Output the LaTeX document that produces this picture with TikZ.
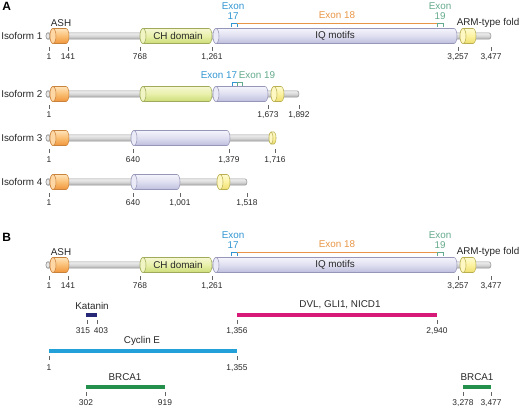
\documentclass[tikz,border=0pt]{standalone}
\usepackage{fontspec}
\setmainfont{Liberation Sans}

\definecolor{txt}{RGB}{40,40,40}
\definecolor{tickc}{RGB}{100,100,100}
\definecolor{exblue}{RGB}{50,150,210}
\definecolor{exorange}{RGB}{232,150,70}
\definecolor{exgreen}{RGB}{100,170,140}
\definecolor{katc}{RGB}{40,40,120}
\definecolor{dvlc}{RGB}{215,25,120}
\definecolor{cycc}{RGB}{35,160,215}
\definecolor{brcac}{RGB}{35,145,75}

\tikzset{every picture/.style={line width=0.4pt}}
\tikzset{
  lbl/.style={font=\fontsize{7.4}{8}\selectfont, text=txt, inner sep=0pt},
  num/.style={font=\fontsize{6.3}{7}\selectfont, text=txt, inner sep=0pt},
  tick/.style={draw=tickc, line width=0.4pt},
  exline/.style={line width=0.6pt},
  rod/.style={draw={rgb,255:red,150;green,150;blue,150}, top color={rgb,255:red,240;green,240;blue,240}, bottom color={rgb,255:red,170;green,170;blue,170}, middle color={rgb,255:red,215;green,215;blue,215}},
  rodface/.style={draw={rgb,255:red,150;green,150;blue,150}, fill={rgb,255:red,232;green,232;blue,232}},
  ash/.style={draw={rgb,255:red,200;green,130;blue,60}, top color={rgb,255:red,255;green,228;blue,185}, bottom color={rgb,255:red,240;green,150;blue,60}, middle color={rgb,255:red,250;green,190;blue,115}},
  ashface/.style={draw={rgb,255:red,200;green,130;blue,60}, fill={rgb,255:red,255;green,215;blue,165}},
  chd/.style={draw={rgb,255:red,160;green,170;blue,90}, top color={rgb,255:red,245;green,248;blue,210}, bottom color={rgb,255:red,205;green,220;blue,120}, middle color={rgb,255:red,232;green,240;blue,170}},
  chdface/.style={draw={rgb,255:red,160;green,170;blue,90}, fill={rgb,255:red,240;green,245;blue,195}},
  iqd/.style={draw={rgb,255:red,150;green,150;blue,185}, top color={rgb,255:red,245;green,245;blue,252}, bottom color={rgb,255:red,190;green,190;blue,222}, middle color={rgb,255:red,222;green,222;blue,240}},
  iqdface/.style={draw={rgb,255:red,150;green,150;blue,185}, fill={rgb,255:red,235;green,235;blue,248}},
  arm/.style={draw={rgb,255:red,185;green,175;blue,80}, top color={rgb,255:red,255;green,252;blue,210}, bottom color={rgb,255:red,238;green,222;blue,110}, middle color={rgb,255:red,252;green,242;blue,160}},
  armface/.style={draw={rgb,255:red,185;green,175;blue,80}, fill={rgb,255:red,255;green,248;blue,195}},
  bind/.style={line width=2.7pt},
}

% tube: x1, x2, y, half height, end radius, style
\newcommand{\cylbar}[6]{%
  \draw[#6] ({#1+#5},{#3-#4}) -- ({#2-#5},{#3-#4}) arc[start angle=-90,end angle=90,x radius=#5,y radius=#4] -- ({#1+#5},{#3+#4}) arc[start angle=90,end angle=270,x radius=#5,y radius=#4] -- cycle;
  \draw[#6face] ({#1+#5},#3) ellipse[x radius=#5,y radius=#4];
}

\begin{document}
\begin{tikzpicture}[x=0.75pt,y=0.75pt,yscale=-1,xscale=1]
\useasboundingbox (0,0) rectangle (520,408);

% Panel letters
\node[font=\bfseries\fontsize{9}{10}\selectfont, anchor=west, inner sep=0pt] (pA) at (2,6) {A};
\node[font=\bfseries\fontsize{9}{10}\selectfont, anchor=west, inner sep=0pt] (pB) at (2,237) {B};

%%%%%%%% Isoform 1
\node[lbl, anchor=west] (iso1) at (1,36) {Isoform 1};
\cylbar{46}{491}{36}{3.2}{2}{rod}
\cylbar{50}{69}{36}{7.5}{3}{ash}
\cylbar{140}{212}{36}{7.5}{3}{chd}
\cylbar{213}{457}{36}{7.5}{3}{iqd}
\cylbar{460}{476}{36}{7.5}{3}{arm}
\node[lbl] (ch1) at (178,36) {CH domain};
\node[lbl] (iq1) at (335,36) {IQ motifs};
\node[lbl] (ash1) at (61,23) {ASH};
\node[lbl] (arm1) at (488,23) {ARM-type fold};
% exons
\node[lbl, text=exblue] (e17a) at (233,6) {Exon};
\node[lbl, text=exblue] (e17b) at (233,16) {17};
\node[lbl, text=exorange] (e18) at (337,15) {Exon 18};
\node[lbl, text=exgreen] (e19a) at (440,6) {Exon};
\node[lbl, text=exgreen] (e19b) at (440,16) {19};
\draw[exline, exblue] (231,27) -- (231,23) -- (237,23) -- (237,27);
\draw[exline, exorange] (237,23) -- (437,23);
\draw[exline, exgreen] (437,27) -- (437,23) -- (443,23) -- (443,27);
\foreach \x/\n [count=\i] in {49/1, 68/141, 140/768, 212/{1,261}, 458/{3,257}, 491/{3,477}} {
  \draw[tick] (\x,47) -- (\x,51);
  \node[num] (a\i) at (\x,57) {\n};
}

%%%%%%%% Isoform 2
\node[lbl, anchor=west] (iso2) at (1,94) {Isoform 2};
\cylbar{46}{299}{94}{3.2}{2}{rod}
\cylbar{50}{69}{94}{7.5}{3}{ash}
\cylbar{140}{212}{94}{7.5}{3}{chd}
\cylbar{213}{268}{94}{7.5}{3}{iqd}
\cylbar{271}{284}{94}{7.5}{3}{arm}
\node[lbl, text=exblue] (e17c) at (219,75) {Exon 17};
\node[lbl, text=exgreen] (e19c) at (257,75) {Exon 19};
\draw[exline, exblue] (232,86) -- (232,82) -- (237,82) -- (237,86);
\draw[exline, exgreen] (237,86) -- (237,82) -- (242,82) -- (242,86);
\foreach \x/\n [count=\i] in {49/1, 268/{1,673}, 299/{1,892}} {
  \draw[tick] (\x,105) -- (\x,109);
  \node[num] (b\i) at (\x,115) {\n};
}

%%%%%%%% Isoform 3
\node[lbl, anchor=west] (iso3) at (1,138) {Isoform 3};
\cylbar{46}{276}{138}{3.2}{2}{rod}
\cylbar{50}{69}{138}{7.5}{3}{ash}
\cylbar{131}{230}{138}{7.5}{3}{iqd}
\cylbar{269}{276}{138}{6}{2}{arm}
\foreach \x/\n [count=\i] in {49/1, 133/640, 229/{1,379}, 275/{1,716}} {
  \draw[tick] (\x,149) -- (\x,153);
  \node[num] (c\i) at (\x,160) {\n};
}

%%%%%%%% Isoform 4
\node[lbl, anchor=west] (iso4) at (1,182) {Isoform 4};
\cylbar{46}{247}{182}{3.2}{2}{rod}
\cylbar{50}{69}{182}{7.5}{3}{ash}
\cylbar{131}{180}{182}{7.5}{3}{iqd}
\cylbar{217}{230}{182}{7.5}{3}{arm}
\foreach \x/\n [count=\i] in {49/1, 133/640, 180/{1,001}, 247/{1,518}} {
  \draw[tick] (\x,193) -- (\x,197);
  \node[num] (d\i) at (\x,203) {\n};
}

%%%%%%%% Panel B protein
\cylbar{46}{491}{265}{3.2}{2}{rod}
\cylbar{50}{69}{265}{7.5}{3}{ash}
\cylbar{140}{212}{265}{7.5}{3}{chd}
\cylbar{213}{457}{265}{7.5}{3}{iqd}
\cylbar{460}{476}{265}{7.5}{3}{arm}
\node[lbl] (ch5) at (178,265) {CH domain};
\node[lbl] (iq5) at (335,265) {IQ motifs};
\node[lbl] (ash5) at (61,252) {ASH};
\node[lbl] (arm5) at (488,252) {ARM-type fold};
\node[lbl, text=exblue] (e17d) at (233,235) {Exon};
\node[lbl, text=exblue] (e17e) at (233,245) {17};
\node[lbl, text=exorange] (e18b) at (337,244) {Exon 18};
\node[lbl, text=exgreen] (e19d) at (440,235) {Exon};
\node[lbl, text=exgreen] (e19e) at (440,245) {19};
\draw[exline, exblue] (231,256) -- (231,252) -- (237,252) -- (237,256);
\draw[exline, exorange] (237,252) -- (437,252);
\draw[exline, exgreen] (437,256) -- (437,252) -- (443,252) -- (443,256);
\foreach \x/\n [count=\i] in {49/1, 68/141, 140/768, 212/{1,261}, 458/{3,257}, 491/{3,477}} {
  \draw[tick] (\x,276) -- (\x,280);
  \node[num] (f\i) at (\x,286) {\n};
}

%%%%%%%% Binding regions
% Katanin
\node[lbl] (kat) at (92,306) {Katanin};
\coordinate (kat1) at (86,315);
\coordinate (kat2) at (97,315);
\draw[bind, katc] (kat1) -- (kat2);
\draw[tick] (87,320) -- (87,324);
\draw[tick] (97,320) -- (97,324);
\node[num] (k1) at (83,331) {315};
\node[num] (k2) at (101,331) {403};
% DVL, GLI1, NICD1
\node[lbl] (dvl) at (340,305) {DVL, GLI1, NICD1};
\coordinate (dvl1) at (237,315);
\coordinate (dvl2) at (437,315);
\draw[bind, dvlc] (dvl1) -- (dvl2);
\draw[tick] (237,320) -- (237,324);
\draw[tick] (437,320) -- (437,324);
\node[num] (v1) at (237,331) {1,356};
\node[num] (v2) at (437,331) {2,940};
% Cyclin E
\node[lbl] (cyc) at (142,341) {Cyclin E};
\coordinate (cyc1) at (49,351);
\coordinate (cyc2) at (237,351);
\draw[bind, cycc] (cyc1) -- (cyc2);
\draw[tick] (49,356) -- (49,360);
\draw[tick] (237,356) -- (237,360);
\node[num] (y1) at (49,368) {1};
\node[num] (y2) at (237,368) {1,355};
% BRCA1 (N)
\node[lbl] (brca) at (125,377) {BRCA1};
\coordinate (brca1) at (86,387);
\coordinate (brca2) at (165,387);
\draw[bind, brcac] (brca1) -- (brca2);
\draw[tick] (86,392) -- (86,396);
\draw[tick] (165,392) -- (165,396);
\node[num] (r1) at (86,403) {302};
\node[num] (r2) at (165,403) {919};
% BRCA1 (C)
\node[lbl] (brcb) at (477,377) {BRCA1};
\coordinate (brcb1) at (463,387);
\coordinate (brcb2) at (491,387);
\draw[bind, brcac] (brcb1) -- (brcb2);
\draw[tick] (463,392) -- (463,396);
\draw[tick] (491,392) -- (491,396);
\node[num] (s1) at (463,403) {3,278};
\node[num] (s2) at (491,403) {3,477};

\end{tikzpicture}
\end{document}
